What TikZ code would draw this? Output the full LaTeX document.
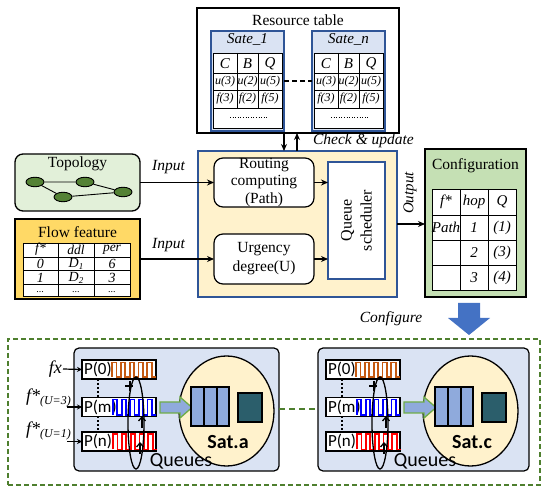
\documentclass[tikz,border=0pt]{standalone}
\usepackage{fontspec}
\setmainfont{Liberation Serif}
\newfontfamily\calfont{Carlito}
\usetikzlibrary{arrows.meta,shapes.geometric}
\definecolor{bordblue}{HTML}{2F5597}
\definecolor{satefill}{HTML}{DAE3F3}
\definecolor{midfill}{HTML}{FFF2CC}
\definecolor{topofill}{HTML}{E2F0D9}
\definecolor{nodegreen}{HTML}{548235}
\definecolor{flowfill}{HTML}{FFD966}
\definecolor{conffill}{HTML}{C5E0B4}
\definecolor{bigblue}{HTML}{4472C4}
\definecolor{dashgreen}{HTML}{4E7F2E}
\definecolor{qblue}{HTML}{8FAADC}
\definecolor{tealdark}{HTML}{2B5E6B}
\definecolor{arrgreen}{HTML}{70AD47}
\definecolor{wvorange}{HTML}{C55A11}
\newcommand\sqwave[6]{%
  \draw[#1, line width=1.8pt, line join=miter] (#2,#4) \foreach \k in {1,...,#5} { -- ++(0,#3-#4) -- ++(#6,0) -- ++(0,#4-#3) -- ++(#6,0)};}
\begin{document}
\begin{tikzpicture}[x=1pt,y=-1pt,
  fs/.style={font=\fontsize{#1}{#1}\selectfont},
  fsi/.style={font=\fontsize{#1}{#1}\selectfont\itshape, inner sep=0pt},
  box/.style={draw, anchor=north west, inner sep=0pt, outer sep=0pt},
  arr/.style={-{Stealth[length=7pt,width=6pt]}, line width=1.3pt},
  arrs/.style={-{Stealth[length=5pt,width=5pt]}, line width=1.2pt},
  grid/.style={line width=0.9pt},
  barb/.style={line width=1.3pt, -{Straight Barb[length=4pt,width=7pt]}}]
\useasboundingbox (0,0) rectangle (550,492);

% ---------- Resource table ----------
\node[box, line width=1.3pt, fill=white, minimum width=202pt, minimum height=125pt] (res) at (197,8) {};
\node[fs=15.5] (restitle) at (298,20) {Resource table};
\foreach \ox/\nm/\tl in {0/s1/Sate\_1, 101/sn/Sate\_n} {
  \node[box, draw=bordblue, line width=1.3pt, fill=satefill, minimum width=73pt, minimum height=100pt] (\nm) at (211+\ox,31) {};
  \node[fsi=15] at (247.5+\ox,40) {\tl};
  \fill[white] (213+\ox,53) rectangle (282+\ox,128);
  \draw[grid] (213+\ox,53) rectangle (282+\ox,128);
  \draw[grid] (213+\ox,73) -- (282+\ox,73) (213+\ox,90) -- (282+\ox,90) (213+\ox,108) -- (282+\ox,108);
  \draw[grid] (237+\ox,53) -- (237+\ox,108) (258+\ox,53) -- (258+\ox,108);
  \node[fsi=15] at (225+\ox,63.5) {C};
  \node[fsi=15] at (247.5+\ox,63.5) {B};
  \node[fsi=15] at (270+\ox,63.5) {Q};
  \node[fsi=12] at (225+\ox,81.5) {u(3)};
  \node[fsi=12] at (247.5+\ox,81.5) {u(2)};
  \node[fsi=12] at (270+\ox,81.5) {u(5)};
  \node[fsi=12] at (225+\ox,99) {f(3)};
  \node[fsi=12] at (247.5+\ox,99) {f(2)};
  \node[fsi=12] at (270+\ox,99) {f(5)};
  \draw[line width=1pt, dash pattern=on 1pt off 1.6pt] (230+\ox,118) -- (268+\ox,118);
}
\draw[line width=2pt, dash pattern=on 5pt off 3pt] (s1.east) -- (sn.west);

% ---------- Middle block ----------
\node[box, draw=bordblue, line width=1.3pt, fill=midfill, minimum width=199pt, minimum height=146pt] (mid) at (198,151) {};
\node[box, line width=1.2pt, rounded corners=9pt, fill=white, minimum width=100pt, minimum height=49pt,
      align=center, font=\fontsize{15.5}{17.5}\selectfont] (route) at (214,158) {Routing\\computing\\(Path)};
\node[box, line width=1.2pt, rounded corners=9pt, fill=white, minimum width=100pt, minimum height=50pt,
      align=center, font=\fontsize{15.5}{19}\selectfont] (urg) at (214,234) {Urgency\\degree(U)};
\node[box, draw=bordblue, line width=1.3pt, fill=white, minimum width=57pt, minimum height=117pt] (qs) at (328,162) {};
\node[rotate=90, align=center, font=\fontsize{16}{20}\selectfont] (qstext) at (qs.center) {Queue\\scheduler};
\draw[arr] ([xshift=-14pt]res.south) -- ([xshift=-14pt]res.south |- mid.north);
\draw[arr] ([xshift=-1pt]res.south |- mid.north) -- ([xshift=-1pt]res.south);
\node[fsi=15.5] (chk) at (363.5,141) {Check \& update};
\draw[arr] (route.east) -- (route.east -| qs.west);
\draw[arr] (urg.east) -- (urg.east -| qs.west);

% ---------- Topology ----------
\node[box, rounded corners=8pt, line width=1.3pt, fill=topofill, minimum width=125pt, minimum height=57pt] (topo) at (15,154) {};
\node[fs=15.5] (topotitle) at (77.5,164) {Topology};
\foreach \n/\px/\py in {t1/35/182, t2/85/182, t3/63/197, t4/123/192}
  \node[ellipse, draw, fill=nodegreen, minimum width=18pt, minimum height=9.5pt, inner sep=0pt, line width=0.9pt] (\n) at (\px,\py) {};
\draw[line width=0.9pt] (t1) -- (t2) (t1) -- (t3) (t3) -- (t4) (t2) -- (t4);

% ---------- Flow feature ----------
\node[box, line width=1.8pt, fill=flowfill, minimum width=125pt, minimum height=80pt] (flow) at (15,219) {};
\node[fs=15.5] (flowtitle) at (77.5,232) {Flow feature};
\fill[white] (23,243) rectangle (130,296);
\draw[grid] (23,243) rectangle (130,296);
\draw[grid] (23,257) -- (130,257) (23,270) -- (130,270) (23,284) -- (130,284) (58,243) -- (58,296) (94,243) -- (94,296);
\node[fsi=13.5] at (40.5,249.5) {f*};
\node[fsi=13.5] at (76,249.5) {ddl};
\node[fsi=13.5] at (112,249.5) {per};
\node[fsi=14] at (40.5,264) {0};
\node[fsi=14] at (76,264) {D\raisebox{-2pt}{\fontsize{9}{9}\selectfont 1}};
\node[fsi=14] at (112,264) {6};
\node[fsi=14] at (40.5,277.5) {1};
\node[fsi=14] at (76,277.5) {D\raisebox{-2pt}{\fontsize{9}{9}\selectfont 2}};
\node[fsi=14] at (112,277.5) {3};
\node[fsi=10] at (40.5,292) {...};
\node[fsi=10] at (76,292) {...};
\node[fsi=10] at (112,292) {...};

\draw[arr] (topo.east) -- (topo.east -| route.west);
\draw[arr] (flow.east) -- (flow.east -| urg.west);
\node[fsi=15.5] (in1) at (168.5,167) {Input};
\node[fsi=15.5] (in2) at (168.5,245) {Input};

% ---------- Configuration ----------
\node[box, line width=1.3pt, fill=conffill, minimum width=101pt, minimum height=148pt] (conf) at (425,149) {};
\node[fs=15.5] (conftitle) at (475.5,166) {Configuration};
\fill[white] (432,189) rectangle (516,290);
\draw[grid] (432,189) rectangle (516,290);
\draw[grid] (432,215) -- (516,215) (432,240) -- (516,240) (432,265) -- (516,265) (460,189) -- (460,290) (488,189) -- (488,290);
\node[fsi=15] at (446,202) {f*};
\node[fsi=15] at (474,202) {hop};
\node[fsi=15] at (502,202) {Q};
\node[fsi=15] at (446,227.5) {Path};
\node[fsi=15] at (474,227.5) {1};
\node[fsi=15] at (502,227.5) {(1)};
\node[fsi=15] at (474,252.5) {2};
\node[fsi=15] at (502,252.5) {(3)};
\node[fsi=15] at (474,277.5) {3};
\node[fsi=15] at (502,277.5) {(4)};
\draw[arr] (mid.east) -- (mid.east -| conf.west);
\node[fsi=15, rotate=90] (outlab) at (410,193) {Output};

% ---------- Configure arrow ----------
\fill[bigblue] (458,303) -- (480,303) -- (480,318) -- (490,318) -- (469,335) -- (448,318) -- (458,318) -- cycle;
\node[fsi=15.5] (cfg) at (391,319) {Configure};

% ---------- Bottom ----------
\node[box, draw=dashgreen, line width=1.1pt, dash pattern=on 5pt off 3pt, minimum width=532pt, minimum height=146pt] (bottom) at (8,339) {};

\foreach \dx/\s/\lab/\w in {0/a/Sat.a/205, 244/c/Sat.c/211} {
  \node[box, line width=1.2pt, rounded corners=5pt, fill=satefill, minimum width=\w pt, minimum height=123pt] (panel\s) at (74+\dx,348) {};
  \foreach \pn/\pt/\py in {0/P(0)/360, m/P(m)/397.5, n/P(n)/432} {
    \node[box, line width=1.2pt, fill=white, minimum width=74pt, minimum height=19pt, text width=70pt, align=left,
          font=\calfont\fontsize{17}{17}\selectfont] (p\pn\s) at (82+\dx,\py) {\pt};
  }
  \sqwave{wvorange}{112+\dx}{362.5}{377}{5}{4.4}
  \sqwave{blue}{113+\dx}{399.5}{415}{5}{4.3}
  \sqwave{red}{113+\dx}{434}{449.5}{5}{4.4}
  \draw[line width=2pt, dash pattern=on 2pt off 2pt] ([xshift=16pt]p0\s.south west) -- ([xshift=16pt]pm\s.north west);
  \draw[line width=2pt, dash pattern=on 2pt off 2pt] ([xshift=16pt]pm\s.south west) -- ([xshift=16pt]pn\s.north west);
  \draw[line width=1.3pt] (136+\dx,423) ellipse [x radius=8pt, y radius=46pt];
  \draw[barb] (142+\dx,428) -- (142+\dx,416);
  \draw[barb] (140+\dx,454) -- (140+\dx,442);
  \draw[line width=1.3pt] (125+\dx,386) -- (133+\dx,386) (130+\dx,381) -- (130+\dx,391);
  \node[ellipse, draw, line width=1.3pt, fill=midfill, minimum width=95pt, minimum height=110pt, inner sep=0pt] (sat\s) at (226.5+\dx,411) {};
  \draw[arrgreen, fill=qblue, line width=1.3pt] (160+\dx,402) -- (180+\dx,402) -- (180+\dx,397) -- (192+\dx,407.5) -- (180+\dx,418) -- (180+\dx,413) -- (160+\dx,413) -- cycle;
  \draw[fill=qblue, line width=1.6pt] (191+\dx,387) rectangle (229+\dx,426);
  \draw[line width=1.6pt] (204+\dx,387) -- (204+\dx,426) (217+\dx,387) -- (217+\dx,426);
  \draw[fill=tealdark, line width=1.6pt] (238+\dx,393) rectangle (262+\dx,422);
  \node[font=\calfont\bfseries\fontsize{20}{20}\selectfont] (satlab\s) at (228+\dx,442) {\lab};
  \node[font=\calfont\fontsize{20}{20}\selectfont] (qlab\s) at (181+\dx,461) {Queues};
}
\draw[dashgreen, line width=2pt, dash pattern=on 6pt off 4pt] (panela.east) -- (panelc.west);

% input labels
\node[font=\fontsize{18}{18}\selectfont\itshape, inner sep=1pt, anchor=east] (fx) at (63,369) {fx};
\draw[arrs] (fx.east) -- (p0a.west);
\node[font=\fontsize{18}{18}\selectfont\itshape, inner sep=0pt, anchor=east] (fu3) at (71,398) {f*\raisebox{-3pt}{\fontsize{12}{12}\selectfont(U=3)}};
\node[font=\fontsize{18}{18}\selectfont\itshape, inner sep=0pt, anchor=east] (fu1) at (71,431) {f*\raisebox{-3pt}{\fontsize{12}{12}\selectfont(U=1)}};
\draw[arrs] ([xshift=-4pt]fu3.east |- pma.west) -- (pma.west);
\draw[arrs] ([xshift=-4pt]fu1.east |- pna.west) -- (pna.west);
\end{tikzpicture}
\end{document}
